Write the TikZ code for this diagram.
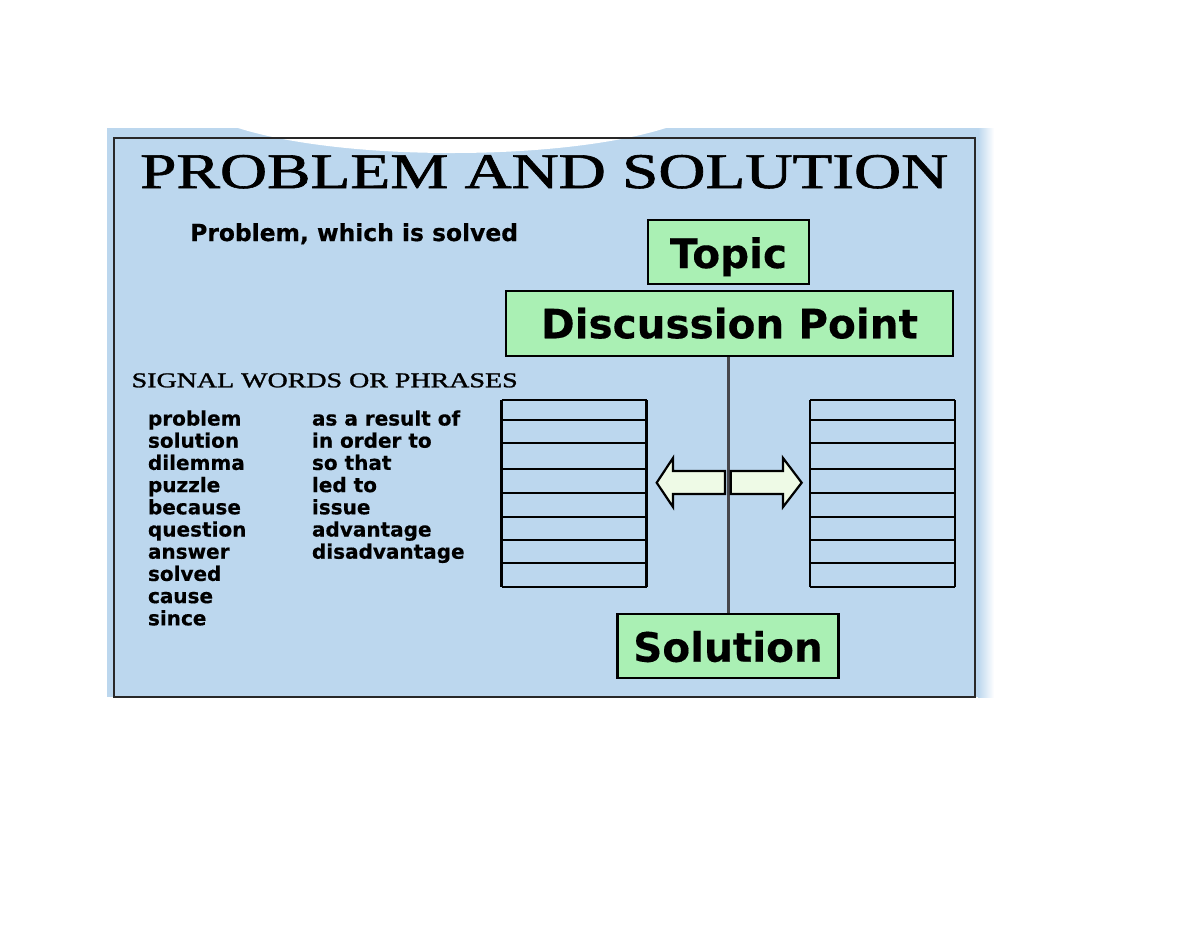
\documentclass[tikz,border=0pt]{standalone}
\usepackage{fontspec}
\setmainfont{Liberation Serif}
\newfontfamily\titlefont{Liberation Serif}[FakeBold=1.2]
\newfontfamily\dvsans{DejaVu Sans}[FakeBold=0.5]
\newfontfamily\dvbox{DejaVu Sans}[FakeBold=0.3]
\usetikzlibrary{calc}
\definecolor{panelblue}{RGB}{188,215,238}
\definecolor{boxgreen}{RGB}{170,240,180}
\definecolor{arrowgreen}{RGB}{238,250,230}
\definecolor{framegray}{RGB}{40,40,40}
\definecolor{stemgray}{RGB}{70,70,75}
\begin{document}
\begin{tikzpicture}[x=1pt,y=-1pt,
  box/.style={draw=black,line width=2.5pt,fill=boxgreen,inner sep=0pt,text depth=0pt,
    font=\dvbox\bfseries\fontsize{40.5}{44}\selectfont},
  word/.style={anchor=base west,inner sep=0pt,font=\dvsans\bfseries\fontsize{20}{22}\selectfont},
  heading/.style={anchor=base west,inner sep=0pt},
  gridline/.style={draw=black,line width=2.6pt},
  fatarrow/.style={draw=black,line width=2.2pt,fill=arrowgreen,line join=miter},
  stem/.style={draw=stemgray,line width=3pt}]
\useasboundingbox (0,0) rectangle (1200,927);
\fill[white] (0,0) rectangle (1200,927);
% panel background
\fill[panelblue] (107,128) rectangle (978,697);
\shade[left color=panelblue,right color=white] (978,128) rectangle (994,697);
\begin{scope}
  \clip (100,120) rectangle (1000,160);
  \fill[white] (452,95) ellipse [x radius=260, y radius=58];
\end{scope}
\draw[line width=2.2pt,draw=framegray] (114,138) rectangle (975,697);

% headings
\node[heading] (title) at (140,188) {\resizebox{808pt}{33pt}{\titlefont PROBLEM AND SOLUTION}};
\node[heading,font=\dvsans\bfseries\fontsize{23.4}{26}\selectfont] (sub) at (190,241) {Problem, which is solved};
\node[heading] (signal) at (131.5,387.3) {\resizebox{386pt}{14pt}{\titlefont SIGNAL WORDS OR PHRASES}};

% signal word lists
\foreach \w [count=\i from 0] in {problem,solution,dilemma,puzzle,because,question,answer,solved,cause,since}
  \node[word] (a\i) at (147.8,425.5+22.2*\i) {\w};
\foreach \w [count=\i from 0] in {as a result of,in order to,so that,led to,issue,advantage,disadvantage}
  \node[word] (b\i) at (311.8,425.5+22.2*\i) {\w};

% boxes
\node[box,minimum width=161,minimum height=64,text height=32pt] (topic) at (728.5,252) {Topic};
\node[box,minimum width=447,minimum height=65,text height=29.6pt] (dp) at (729.5,323.5) {Discussion Point};
\node[box,minimum width=221,minimum height=64,text height=31.4pt] (sol) at (728,646) {Solution};

% stem
\draw[stem] (sol.north |- dp.south) -- (sol.north);

% stacked lines
\foreach \x/\X in {501.7/646.7,810/955}{
  \draw[gridline] (\x,400) -- (\x,587);
  \draw[gridline] (\X,400) -- (\X,587);
  \foreach \y in {400,420,443,469,493,517,540,563,587}
    \draw[gridline] (\x,\y) -- (\X,\y);
}

% double arrows
\draw[fatarrow] (725,471) -- (673,471) -- (673,458) -- (656.7,482.7) -- (673,507) -- (673,494) -- (725,494) -- cycle;
\draw[fatarrow] (730.7,471) -- (783,471) -- (783,458) -- (801.7,482.7) -- (783,507) -- (783,494) -- (730.7,494) -- cycle;
\end{tikzpicture}
\end{document}
